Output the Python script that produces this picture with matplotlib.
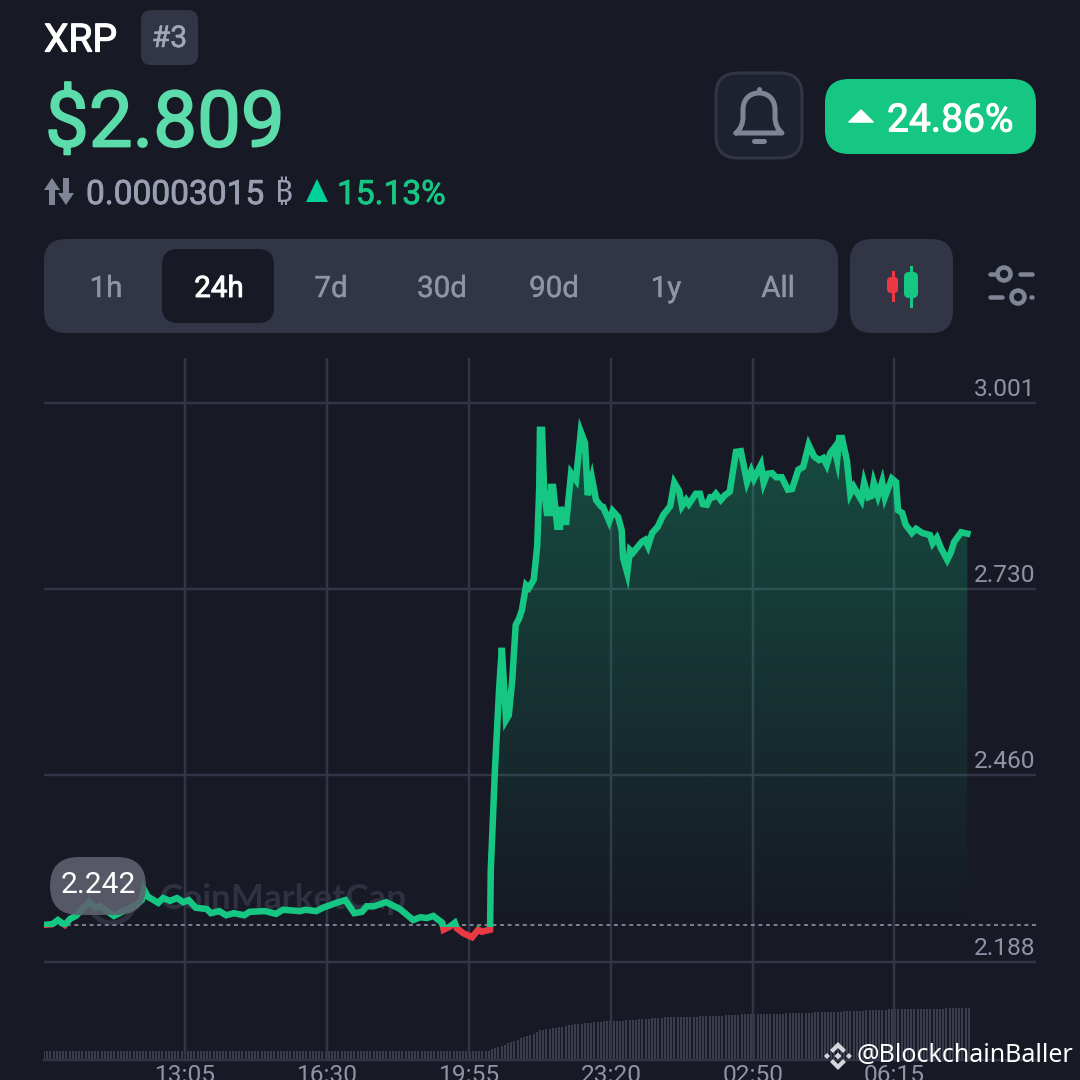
import numpy as np
import matplotlib
matplotlib.use("Agg")
import matplotlib.pyplot as plt
import matplotlib.patheffects as pe
from matplotlib.patches import FancyBboxPatch, Rectangle, Polygon, Circle, PathPatch, Arc
from matplotlib.path import Path
from matplotlib.transforms import ScaledTranslation

# ---------- data ----------
minutes = [0,12,20,30,38,46,65,75,81,101,115,133,141,144,150,165,172,182,192,201,209,219,235,241,253,263,274,289,297,319,335,345,370,377,393,403,422,435,448,459,466,476,494,514,533,543,553,562,575,
           577,585,593,596,605,618,627,632,644,
           645,651,657,661,667,671,676,681,686,690,696,700,707,712,715,716,719,722,726,731,732,735,741,745,746,749,754,761,768,775,781,785,791,797,804,807,816,821,829,834,836,842,846,850,863,868,872,878,886,894,904,910,917,921,927,931,941,947,951,957,962,966,970,977,983,990,
           999,1006,1015,1021,1025,1035,1039,1044,1051,1057,1065,1074,1080,1089,1096,1104,1112,1119,1125,1130,1135,1141,1145,1148,1152,1159,1164,1169,1180,1184,1190,1195,1198,1204,1210,1214,1224,1230,1233,1239,1244,1253,1259,1268,1279,1283,1289,1295,1304,1309,1314,1324,1333]
price = [2.242,2.243,2.249,2.242,2.251,2.255,2.275,2.267,2.269,2.255,2.262,2.271,2.278,2.294,2.283,2.274,2.281,2.277,2.281,2.275,2.278,2.267,2.265,2.259,2.262,2.256,2.259,2.256,2.261,2.262,2.258,2.264,2.262,2.264,2.262,2.267,2.274,2.278,2.259,2.261,2.269,2.269,2.275,2.265,2.249,2.253,2.252,2.255,2.245,
         2.235,2.239,2.245,2.237,2.230,2.224,2.235,2.232,2.235,
         2.322,2.467,2.584,2.645,2.540,2.547,2.598,2.678,2.688,2.700,2.736,2.732,2.744,2.792,2.879,2.962,2.962,2.875,2.841,2.841,2.879,2.879,2.821,2.821,2.850,2.828,2.828,2.899,2.889,2.959,2.943,2.867,2.892,2.860,2.851,2.850,2.829,2.844,2.835,2.816,2.776,2.754,2.787,2.783,2.799,2.802,2.793,2.812,2.821,2.838,2.851,2.885,2.873,2.851,2.860,2.854,2.869,2.869,2.854,2.853,2.864,2.864,2.869,2.860,2.867,2.872,
         2.930,2.931,2.886,2.902,2.891,2.911,2.885,2.898,2.899,2.893,2.893,2.875,2.876,2.904,2.908,2.940,2.923,2.918,2.921,2.911,2.928,2.936,2.918,2.950,2.950,2.918,2.869,2.879,2.860,2.885,2.864,2.866,2.885,2.866,2.886,2.864,2.891,2.886,2.845,2.841,2.824,2.812,2.818,2.812,2.809,2.797,2.805,2.790,2.773,2.783,2.799,2.813,2.811]
open_price = 2.242
volume_early = [9] * 140
volume_rise = [11,12,13,14,15.5,17,18,19,20.5,22,23,24,25,26,28,30,30.5,31,31.5,32,32.5,33,33.5,34,35,35.5,36,36,36.5,37,37,37.5,38,38,38.5,39,39,39,
               39.5,39.5,39.5,39.5,40,40,40,40,41,41,41,41,42,42,42,42,43,43,43,
               43.5,43.5,43.5,43.5,43.5,43.5,43.5,43.5,44,44,44,44,44,44,44,44,45,45,45,45,45,46,46,46,
               46,46,46,46,46,46,46.5,46.5,46.5,46.5,46.5,47,47,47,47,47,47.5,47.5,47.5,47.5,48,48,48,48,
               48,48,48.5,48.5,48.5,49,49,49,49,49.5,49.5,49.5,50,50,50,50,50.5,50.5,50.5,51,51,51,
               51,51,51,51,51,51,51,51.5,51.5,51.5,51.5,51.5,51.5,51.5,51.5,52,52,52,52,52,52,52,52]
volume = volume_early + volume_rise
minutes_per_bar = 4.62
tick_minutes = [204, 409, 614, 819, 1024, 1227]
tick_times = ["13:05", "16:30", "19:55", "23:20", "02:50", "06:15"]
price_ticks = [3.001, 2.730, 2.460, 2.188]
tabs = ["1h", "24h", "7d", "30d", "90d", "1y", "All"]
tab_x = [106, 219, 331, 442, 554, 666, 778]

# ---------- style ----------
BG = "#171924"; BOX = "#323546"; GREEN = "#16c784"; RED = "#ea3943"
GRID = "#323546"; MUTED = "#8f93a6"; PRICE = "#5ddcab"; ICON = "#808595"
W = H = 1080
def F(px): return px * 0.72
plt.rcParams["font.family"] = ["Roboto", "DejaVu Sans"]
BTC_FONTS = ["Noto Sans", "Inter", "Open Sans", "Lato", "Noto Sans CJK SC", "Liberation Sans", "DejaVu Sans"]

def heavy(txt, width, color):
    txt.set_path_effects([pe.withStroke(linewidth=F(width), foreground=color)])
    return txt

fig = plt.figure(figsize=(10.8, 10.8), dpi=100, facecolor=BG)

def px_axes(z):
    a = fig.add_axes([0, 0, 1, 1], zorder=z)
    a.set_xlim(0, W); a.set_ylim(H, 0); a.axis("off"); a.patch.set_alpha(0)
    return a

ui = px_axes(0)
top = px_axes(5)

def rbox(a, x0, y0, x1, y1, r, fc, ec="none", lw=0, alpha=None, z=1):
    p = FancyBboxPatch((x0 + r, y0 + r), x1 - x0 - 2 * r, y1 - y0 - 2 * r,
                       boxstyle=f"round,pad={r},rounding_size={r}", fc=fc, ec=ec, lw=lw, alpha=alpha, zorder=z)
    a.add_patch(p)
    return p

# ---------- header ----------
heavy(ui.text(44, 41, "XRP", color="white", fontsize=F(39), va="center", ha="left"), 1.2, "white")
rbox(ui, 141, 10, 198, 65, 10, BOX)
heavy(ui.text(169.5, 39, "#3", color="#a1a7bb", fontsize=F(30), va="center", ha="center"), 0.5, "#a1a7bb")
heavy(ui.text(45, 125, "$2.809", color=PRICE, fontsize=F(78), va="center", ha="left"), 1.8, PRICE)

# swap arrows
for pts in ([(44,190),(52,178),(60,190),(55,190),(55,205),(49,205),(49,190)],
            [(74,193),(66,205),(58,193),(63,193),(63,178),(69,178),(69,193)]):
    ui.add_patch(Polygon(pts, closed=True, fc=ICON, ec="none"))
heavy(ui.text(86, 195, "0.00003015", color="#9a9eb1", fontsize=F(33.5), va="center", ha="left"), 0.8, "#9a9eb1")
ui.text(284, 194, "\u20bf", color="#9a9eb1", fontsize=F(31), va="center", ha="center", family=BTC_FONTS)
ui.add_patch(Polygon([(317,179),(328,202),(306,202)], closed=True, fc="#00d09a", ec="none", joinstyle="round"))
heavy(ui.text(337, 195, "15.13%", color=GREEN, fontsize=F(33.5), va="center", ha="left"), 0.8, GREEN)

# bell button
rbox(ui, 716, 73, 802, 158, 22, "#1e2130", ec=BOX, lw=F(3))
bell = Path([(736,133),(743,127),(743,117),(743,110),(743,99),(750,93),(759,93),(768,93),(775,99),(775,110),(775,117),(775,127),(782,133),(736,133)],
            [Path.MOVETO,Path.CURVE3,Path.CURVE3,Path.LINETO,Path.CURVE4,Path.CURVE4,Path.CURVE4,Path.CURVE4,Path.CURVE4,Path.CURVE4,Path.LINETO,Path.CURVE3,Path.CURVE3,Path.LINETO])
ui.add_patch(PathPatch(bell, fc="none", ec=ICON, lw=F(5), capstyle="round", joinstyle="round", zorder=3))
ui.plot([759,759],[89,92], color=ICON, lw=F(5), solid_capstyle="round", zorder=3)
ui.plot([754,764],[141,141], color=ICON, lw=F(5), solid_capstyle="round", zorder=3)

# change badge
rbox(ui, 825, 79, 1036, 154, 24, GREEN)
ui.add_patch(Polygon([(861,110),(873,122),(849,122)], closed=True, fc="white", ec="white", lw=F(1.5), joinstyle="round", zorder=3))
heavy(ui.text(887, 121, "24.86%", color="white", fontsize=F(39), va="center", ha="left", zorder=3), 1.0, "white")

# tabs
rbox(ui, 44, 239, 838, 333, 22, BOX)
rbox(ui, 162, 249, 274, 323, 16, BG, z=2)
for label, x in zip(tabs, tab_x):
    sel = label == "24h"
    c = "white" if sel else MUTED
    heavy(ui.text(x, 289, label, color=c, fontsize=F(29.5), va="center", ha="center", zorder=3), 0.9 if sel else 0.4, c)

# candle toggle
rbox(ui, 850, 239, 953, 333, 22, BOX)
ui.plot([892.5,892.5],[272,300], color=RED, lw=F(3), zorder=3)
rbox(ui, 887, 277, 898, 293, 4, RED, z=3)
ui.plot([911,911],[267,306], color=GREEN, lw=F(3), zorder=3)
rbox(ui, 904, 272, 918, 298, 5, GREEN, z=3)

# sliders icon
for xs in ([990,994],[1020,1032]):
    ui.plot(xs,[274,274], color=ICON, lw=F(4.5), solid_capstyle="round")
for xs in ([990,1002],[1031,1032]):
    ui.plot(xs,[297,297], color=ICON, lw=F(4.5), solid_capstyle="round")
ui.add_patch(Circle((1004,274), 6.5, fc="none", ec=ICON, lw=F(4.5)))
ui.add_patch(Circle((1018,297), 6.5, fc="none", ec=ICON, lw=F(4.5)))

# watermark behind the line
ui.text(160, 899, "CoinMarketCap", color="#2e3140", fontsize=F(35), fontweight="bold", va="center", ha="left", family=["Lato","DejaVu Sans"])
ui.add_patch(Arc((112, 900), 46, 46, theta1=20, theta2=340, ec="#2e3140", lw=F(5)))

# ---------- chart axes ----------
L, R, T, B = 44, 1036, 358, 1060
rect = [L / W, 1 - B / H, (R - L) / W, (B - T) / H]
MIN_PER_PX = 1.4437
PRICE_PER_PX = 0.0014544
xlim = (0, (R - L) * MIN_PER_PX)
ylim = (2.188 - (B - 962) * PRICE_PER_PX, 2.188 + (962 - T) * PRICE_PER_PX)

vax = fig.add_axes(rect, zorder=1)
vax.patch.set_alpha(0)
vax.set_xlim(*xlim); vax.set_ylim(0, B - T)
vax.bar(np.arange(len(volume)) * minutes_per_bar, volume, width=minutes_per_bar * 0.62, color="#3a3d4b", linewidth=0)
vax.axis("off")

ax = fig.add_axes(rect, zorder=2)
ax.patch.set_alpha(0)
for s in ax.spines.values():
    s.set_visible(False)
ax.spines["bottom"].set_visible(True)
ax.spines["bottom"].set_color(GRID); ax.spines["bottom"].set_linewidth(F(2.5))

ax.set_xticks(tick_minutes, tick_times)
ax.yaxis.tick_right()
ax.set_yticks(price_ticks, [f"{v:.3f}" for v in price_ticks])
ax.tick_params(axis="both", length=0, colors=MUTED, labelsize=F(24.5))
ax.tick_params(axis="x", pad=F(4))
ax.tick_params(axis="y", pad=F(-1))
ax.grid(True, color=GRID, linewidth=F(2.5), zorder=0)
ax.set_axisbelow(True)
for lab in ax.get_yticklabels():
    lab.set_ha("right"); lab.set_va("baseline")
    lab.set_transform(lab.get_transform() + ScaledTranslation(0, 7 / 100, fig.dpi_scale_trans))

t = np.array(minutes); p = np.array(price)

# gradient area above the opening price
grad = np.zeros((256, 2, 4))
g_rgb = matplotlib.colors.to_rgb(GREEN)
grad[..., 0], grad[..., 1], grad[..., 2] = g_rgb
grad[..., 3] = np.linspace(0.30, 0, 256)[:, None]
im = ax.imshow(grad, extent=(t[0], t[-1], open_price, p.max()), origin="upper", aspect="auto", zorder=1, interpolation="bilinear")
clip = Path(np.vstack([[t[0], open_price], np.column_stack([t, np.maximum(p, open_price)]), [t[-1], open_price]]))
im.set_clip_path(clip, transform=ax.transData)

ax.axhline(open_price, color="#7a7d8c", lw=F(2), ls=(0, (2, 1.8)), zorder=2)
split = open_price - 0.003
up, = ax.plot(t, p, color=GREEN, lw=F(6.5), solid_joinstyle="miter", zorder=3)
dn, = ax.plot(t, p, color=RED, lw=F(6.5), solid_joinstyle="miter", zorder=3)
up.set_clip_path(Rectangle((xlim[0], split), xlim[1], ylim[1] - split, transform=ax.transData))
dn.set_clip_path(Rectangle((xlim[0], ylim[0]), xlim[1], split - ylim[0], transform=ax.transData))
ax.set_xlim(*xlim); ax.set_ylim(*ylim)

# ---------- overlays ----------
rbox(top, 50, 857, 146, 915, 29, "#5f616f", alpha=0.88)
top.text(98, 885, f"{open_price:.3f}", color="white", fontsize=F(30), va="center", ha="center")

LOGO = "#d5d6da"
top.add_patch(Polygon([(838,1042),(846,1050),(843,1053),(838,1048),(833,1053),(830,1050)], closed=True, fc=LOGO, ec="none"))
top.add_patch(Polygon([(838,1070),(846,1062),(843,1059),(838,1064),(833,1059),(830,1062)], closed=True, fc=LOGO, ec="none"))
for cx, s in [(827,3),(849,3),(838,3.5)]:
    top.add_patch(Polygon([(cx,1056-s),(cx+s,1056),(cx,1056+s),(cx-s,1056)], closed=True, fc=LOGO, ec="none"))
top.text(856, 1056, "@BlockchainBaller", color="white", fontsize=F(25), va="center", ha="left", family=["Noto Sans","DejaVu Sans"])

fig.savefig("out.png", dpi=100, facecolor=BG)
